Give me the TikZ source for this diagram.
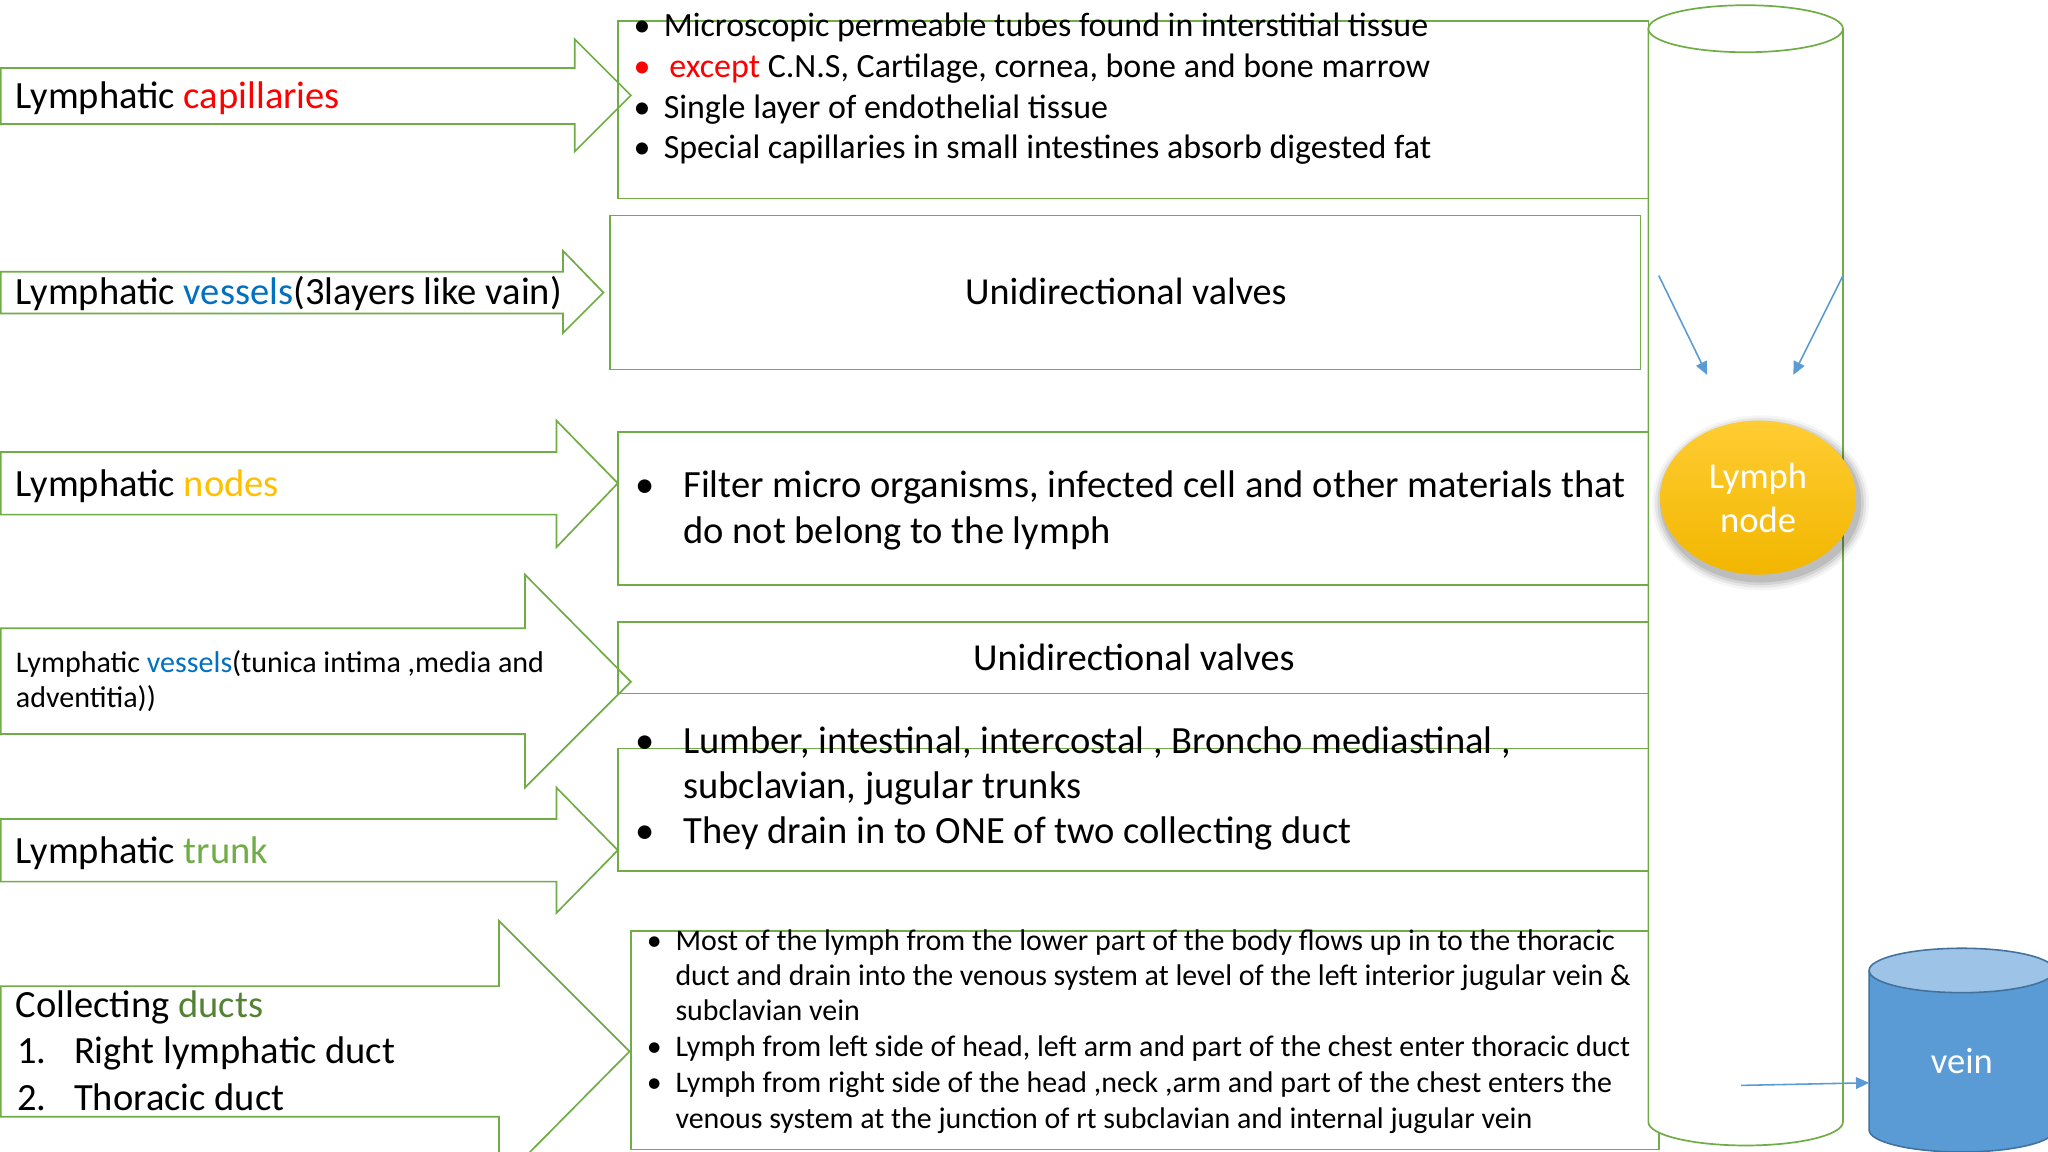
\documentclass[tikz,border=0pt]{standalone}
\usepackage{fontspec}
\setmainfont{Carlito}
\usetikzlibrary{arrows.meta}
\definecolor{lgreen}{HTML}{70AD47}
\definecolor{dgreen}{HTML}{548235}
\definecolor{vblue}{HTML}{0070C0}
\definecolor{ngold}{HTML}{FFC000}
\definecolor{aeblue}{HTML}{5B9BD5}
\definecolor{veinfill}{HTML}{5B9BD5}
\definecolor{veintop}{HTML}{9DC3E6}
\definecolor{veinline}{HTML}{41719C}
\newcommand\lymarrow[7]{%
  \draw[garrow] (0.6,#1) -- (#3,#1) -- (#3,#4) -- (#6,#7) -- (#3,#5) -- (#3,#2) -- (0.6,#2) -- cycle;}
\tikzset{
  gbox/.style={draw=lgreen, line width=1.3pt},
  garrow/.style={draw=lgreen, line width=1.3pt, line join=miter},
  lbl/.style={anchor=base west, inner sep=0pt, font=\fontsize{29.5}{35}\selectfont},
  lblsmall/.style={anchor=base west, inner sep=0pt, font=\fontsize{23}{28}\selectfont},
  tone/.style={anchor=base west, inner sep=0pt, font=\fontsize{26}{31}\selectfont},
  tthree/.style={anchor=base west, inner sep=0pt, font=\fontsize{29.5}{35}\selectfont},
  tsix/.style={anchor=base west, inner sep=0pt, font=\fontsize{22.9}{27}\selectfont},
  tcenter/.style={anchor=base, inner sep=0pt, font=\fontsize{29.2}{35}\selectfont},
  wtext/.style={anchor=base, inner sep=0pt, text=white, font=\fontsize{28}{34}\selectfont},
  barrow/.style={draw=aeblue, line width=1.2pt, -{Triangle[length=10pt,width=9pt]}}
}
\begin{document}
\begin{tikzpicture}[x=1pt,y=-1pt]
\useasboundingbox (0,0) rectangle (1568,882);
\clip (0,0) rectangle (1568,882);
\fill[white] (0,0) rectangle (1568,882);

% ---- boxes ----
\draw[gbox] (473,16) rectangle (1262,152);
\draw[gbox] (467,165) rectangle (1256,283);
\draw[gbox] (473,331) rectangle (1262,448);
\draw[gbox] (473,476) rectangle (1262,531);
\draw[gbox] (473,573) rectangle (1262,667);
\draw[gbox] (483,713) rectangle (1270,880);

% ---- left arrows ----
\lymarrow{52}{95}{440}{30}{116}{483}{73}
\lymarrow{208}{240}{431}{192}{255}{462}{224}
\lymarrow{346}{394}{426}{322}{419}{473}{370}
\lymarrow{481}{562}{402}{440}{603}{483}{522}
\lymarrow{627}{675}{426}{603}{699}{473}{651}
\lymarrow{755}{855}{382}{705}{906}{482}{805}

% ---- left labels ----
\node[lbl] (l1) at (12,83) {Lymphatic \textcolor{red}{capillaries}};
\node[lbl] (l2) at (12,233.5) {Lymphatic \textcolor{vblue}{vessels}(3layers like vain)};
\node[lbl] (l3) at (12,380) {Lymphatic \textcolor{ngold}{nodes}};
\node[lblsmall] (l4a) at (12,515) {Lymphatic \textcolor{vblue}{vessels}(tunica intima ,media and};
\node[lblsmall] (l4b) at (12,542) {adventitia))};
\node[lbl] (l5) at (12,661) {Lymphatic \textcolor{lgreen}{trunk}};
\node[lbl] (l6) at (12,779) {Collecting \textcolor{dgreen}{ducts}};
\node[lbl] (l6n1) at (13,814) {1.};
\node[lbl] (l6a) at (56.5,814) {Right lymphatic duct};
\node[lbl] (l6n2) at (13,850) {2.};
\node[lbl] (l6b) at (56.5,850) {Thoracic duct};

% ---- box 1 text ----
\node[tone] (b1d1) at (485,28) {•};
\node[tone] (b1t1) at (508,28) {Microscopic permeable tubes found in interstitial tissue};
\node[tone,text=red] (b1d2) at (485,59) {•};
\node[tone] (b1t2) at (508,59) {\,\textcolor{red}{except} C.N.S, Cartilage, cornea, bone and bone marrow};
\node[tone] (b1d3) at (485,90.5) {•};
\node[tone] (b1t3) at (508,90.5) {Single layer of endothelial tissue};
\node[tone] (b1d4) at (485,121.5) {•};
\node[tone] (b1t4) at (508,121.5) {Special capillaries in small intestines absorb digested fat};

% ---- box 2 / box 4 text ----
\node[tcenter] (b2t) at (862,233) {Unidirectional valves};
\node[tcenter] (b4t) at (868,513) {Unidirectional valves};

% ---- box 3 text ----
\node[tthree] (b3d1) at (486,381) {•};
\node[tthree] (b3t1) at (523,381) {Filter micro organisms, infected cell and other materials that};
\node[tthree] (b3t2) at (523,416) {do not belong to the lymph};

% ---- box 5 text ----
\node[tthree] (b5d1) at (486,577) {•};
\node[tthree] (b5t1) at (523,577) {Lumber, intestinal, intercostal , Broncho mediastinal ,};
\node[tthree] (b5t2) at (523,611.5) {subclavian, jugular trunks};
\node[tthree] (b5d2) at (486,646) {•};
\node[tthree] (b5t3) at (523,646) {They drain in to ONE of two collecting duct};

% ---- box 6 text ----
\node[tsix] (b6d1) at (495,727.5) {•};
\node[tsix] (b6t1) at (517,727.5) {Most of the lymph from the lower part of the body flows up in to the thoracic};
\node[tsix] (b6t2) at (517,754.5) {duct and drain into the venous system at level of the left interior jugular vein \&};
\node[tsix] (b6t3) at (517,781.5) {subclavian vein};
\node[tsix] (b6d2) at (495,809) {•};
\node[tsix] (b6t4) at (517,809) {Lymph from left side of head, left arm and part of the chest enter thoracic duct};
\node[tsix] (b6d3) at (495,836.5) {•};
\node[tsix] (b6t5) at (517,836.5) {Lymph from right side of the head ,neck ,arm and part of the chest enters the};
\node[tsix] (b6t6) at (517,864) {venous system at the junction of rt subclavian and internal jugular vein};

% ---- lymph vessel cylinder ----
\draw[gbox, fill=white] (1262,22) -- (1262,859)
   arc[start angle=180, end angle=0, x radius=74.5, y radius=18] -- (1411,22);
\draw[gbox, fill=white] (1336.5,22) ellipse [x radius=74.5, y radius=18];

% ---- lymph node ----
\foreach \r/\o in {8/0.04,6/0.06,4/0.08,2/0.10}{
  \fill[black, opacity=\o] (1348,385) ellipse [x radius=75+\r, y radius=59+\r];
}
\shade[top color=ngold!80!white, bottom color=ngold!95!black] (1346,381) ellipse [x radius=75, y radius=59];
\coordinate (lnode) at (1346,381);
\node[wtext] (ln1) at (1346,374) {Lymph};
\node[wtext] (ln2) at (1346,408) {node};

% ---- vein cylinder ----
\draw[draw=veinline, line width=1.2pt, fill=veinfill] (1431,743) -- (1431,865)
   arc[start angle=180, end angle=0, x radius=71, y radius=17] -- (1573,743);
\draw[draw=veinline, line width=1.2pt, fill=veintop] (1502,743) ellipse [x radius=71, y radius=17];
\node[wtext] (vein) at (1502,822) {vein};

% ---- blue arrows ----
\coordinate (a1s) at (1270,211);
\coordinate (a1e) at (1307,287);
\coordinate (a2s) at (1411,211);
\coordinate (a2e) at (1373,287);
\coordinate (a3s) at (1333,831);
\coordinate (a3e) at (1431,829);
\draw[barrow] (a1s) -- (a1e);
\draw[barrow] (a2s) -- (a2e);
\draw[barrow] (a3s) -- (a3e);
\end{tikzpicture}
\end{document}
